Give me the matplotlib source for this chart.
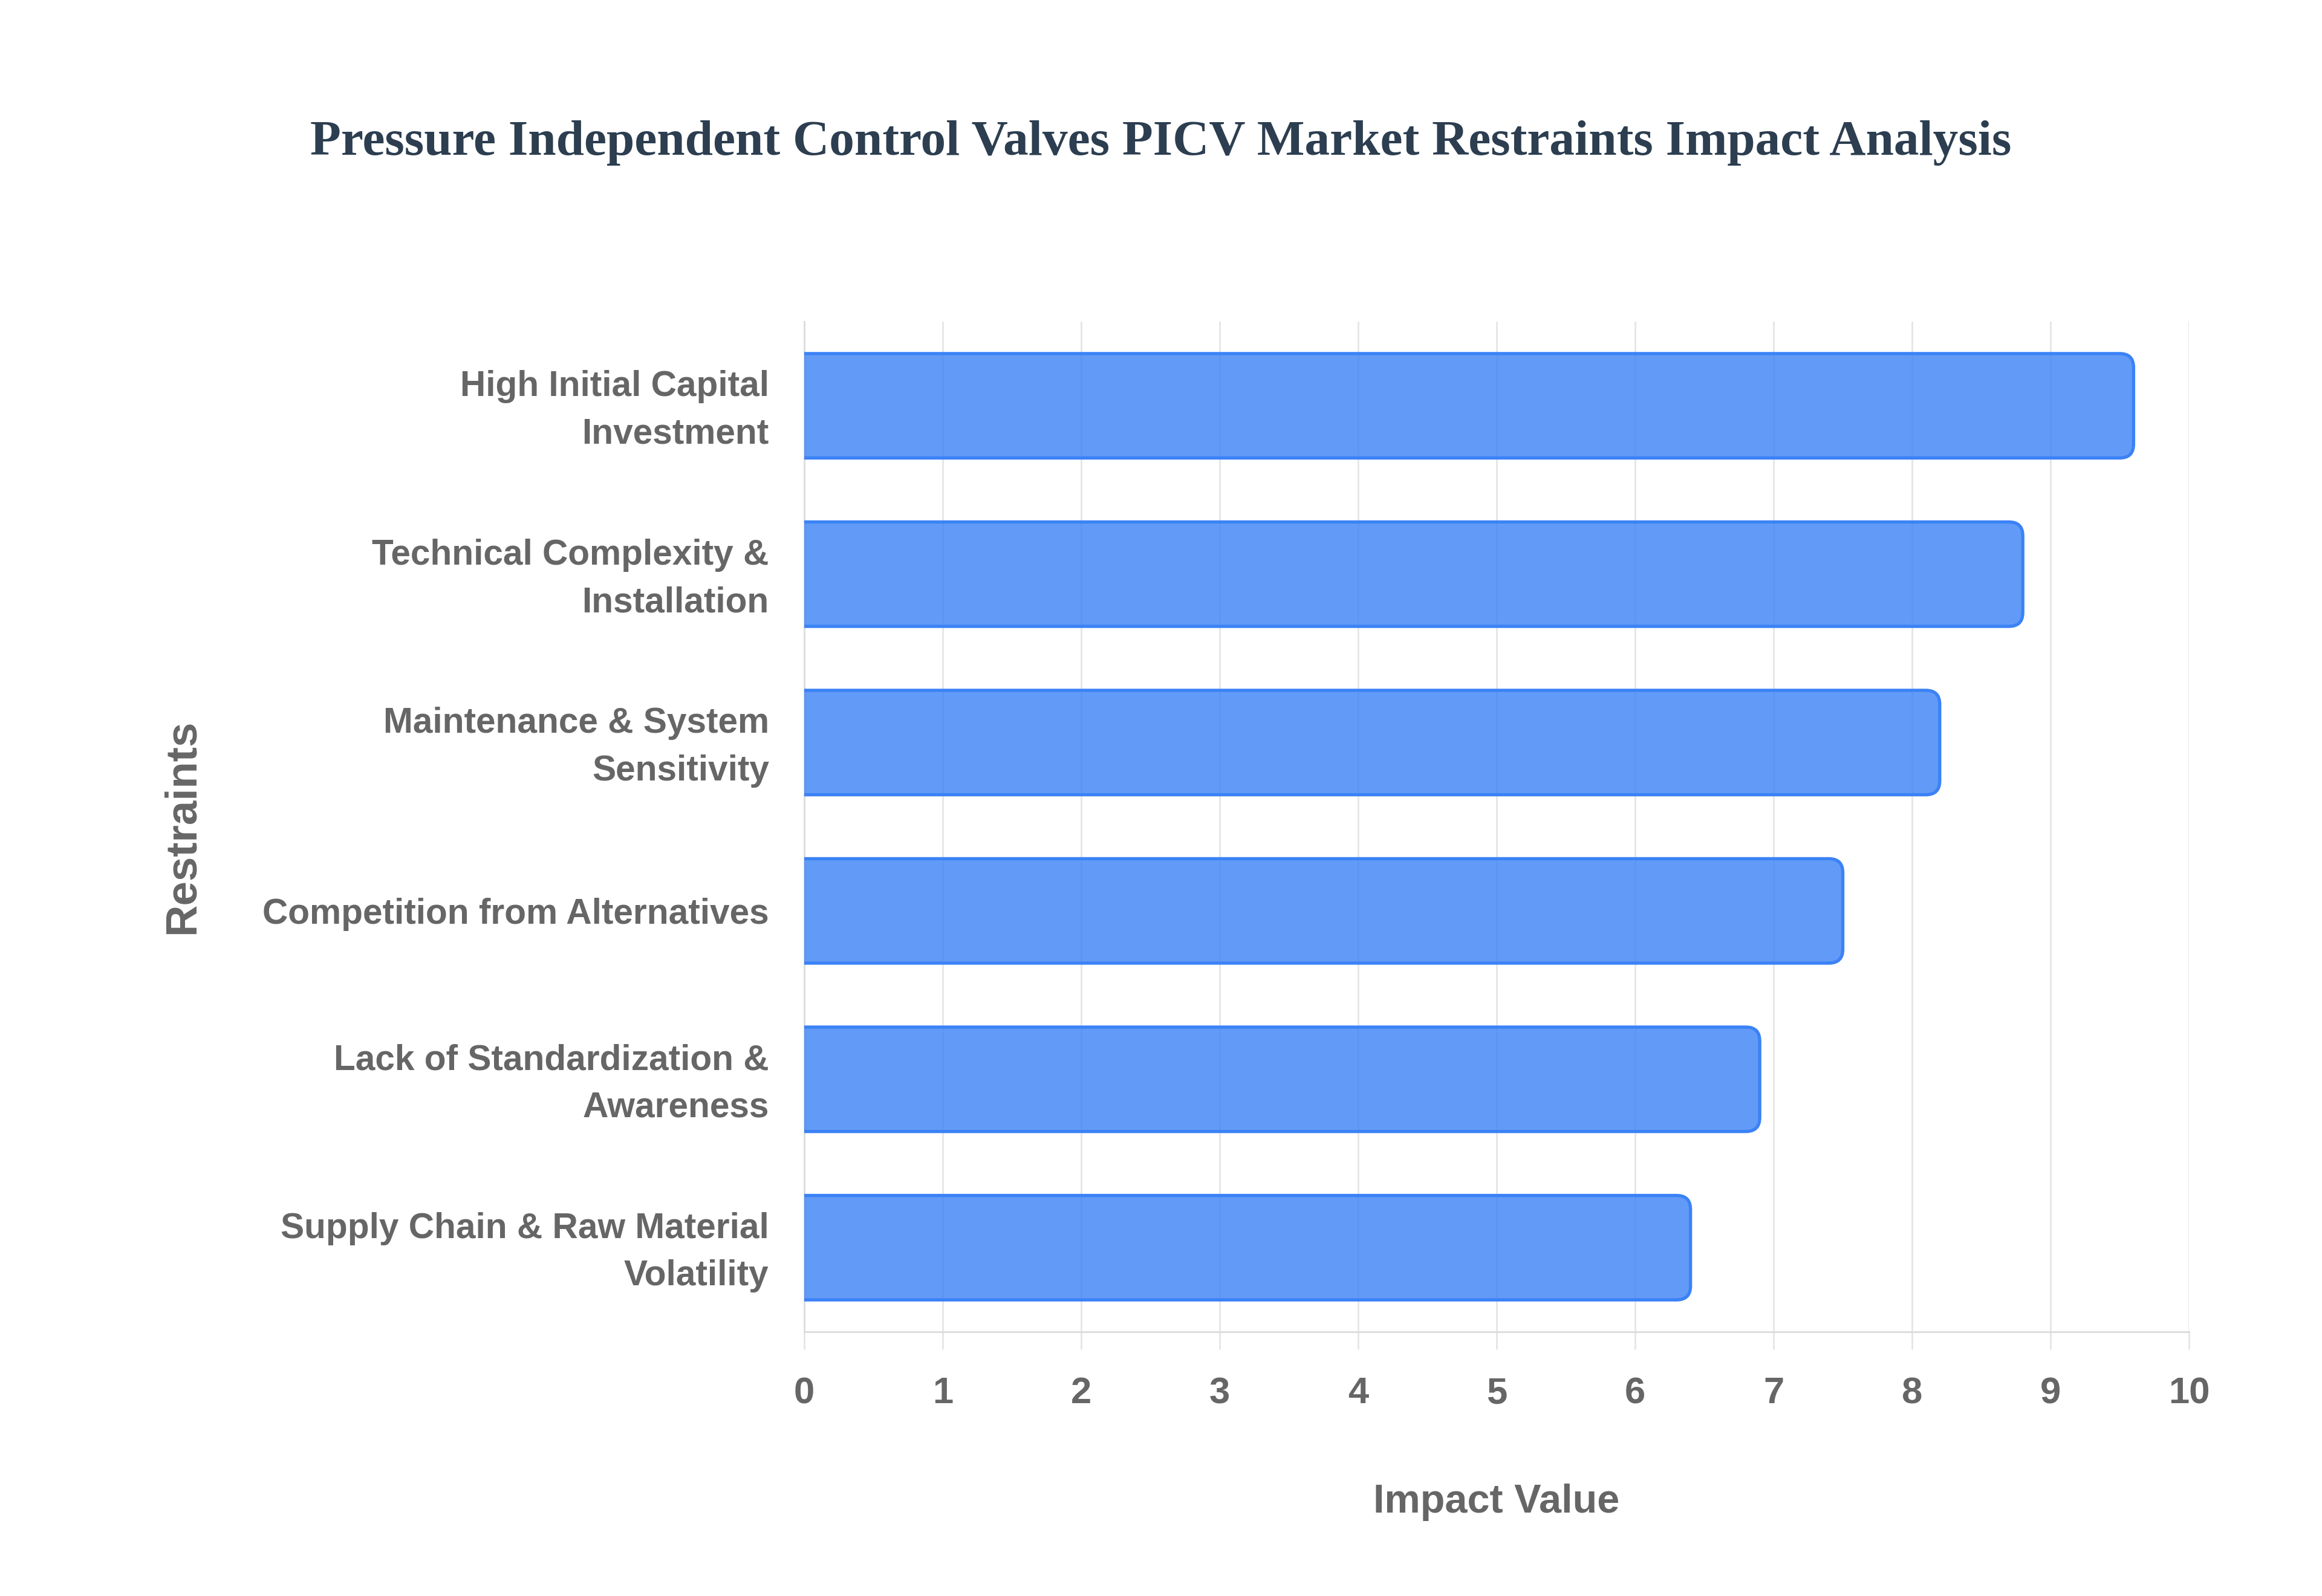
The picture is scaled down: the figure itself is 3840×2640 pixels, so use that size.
import numpy as np
import matplotlib.pyplot as plt
from matplotlib.patches import FancyBboxPatch
from matplotlib.transforms import ScaledTranslation

# data
restraints = [
    'High Initial Capital\nInvestment',
    'Technical Complexity &\nInstallation',
    'Maintenance & System\nSensitivity',
    'Competition from Alternatives',
    'Lack of Standardization &\nAwareness',
    'Supply Chain & Raw Material\nVolatility',
]
impact = [9.6, 8.8, 8.2, 7.5, 6.9, 6.4]
x_ticks = [0, 1, 2, 3, 4, 5, 6, 7, 8, 9, 10]

title = 'Pressure Independent Control Valves PICV Market Restraints Impact Analysis'
x_title = 'Impact Value'
y_title = 'Restraints'

text_grey = '#666666'
grid_grey = '#e4e4e4'
blue = '#3b82f6'

fig = plt.figure(figsize=(16, 11), dpi=240)
ax = fig.add_axes([0.3464, 0.1655, 0.5963, 0.6330])

ax.set_xlim(0, 10)
ax.set_ylim(len(restraints) - 0.5, -0.5)

# plain bars first, then swap each one for a bar with rounded right end
y_pos = np.arange(len(restraints))
bars = ax.barh(y_pos, impact, height=0.62, color=blue)

fig.canvas.draw()
p0 = ax.transData.transform((0, 0))
p1 = ax.transData.transform((1, 1))
aspect = abs(p1[0] - p0[0]) / abs(p1[1] - p0[1])
radius = 0.1

for b in bars:
    x0, y0 = b.get_x(), b.get_y()
    w, h = b.get_width(), b.get_height()
    b.remove()
    shift = 0.3  # push the left end past the axis so its corners get clipped
    patch = FancyBboxPatch((x0 - shift, y0), w + shift, h,
                           boxstyle=f'round,pad=0,rounding_size={radius}',
                           mutation_aspect=aspect,
                           facecolor=(59 / 255, 130 / 255, 246 / 255, 0.8),
                           edgecolor=blue, linewidth=1.6, zorder=3)
    patch.set_clip_path(ax.patch)
    ax.add_patch(patch)

# axes styling
for side in ['top', 'right']:
    ax.spines[side].set_visible(False)
for side in ['left', 'bottom']:
    ax.spines[side].set_color('#dddddd')
    ax.spines[side].set_linewidth(0.9)

ax.set_xticks(x_ticks)
ax.set_xticklabels([str(t) for t in x_ticks])
ax.grid(axis='x', color=grid_grey, linewidth=0.8, zorder=0)
ax.set_axisbelow(True)
ax.tick_params(axis='x', length=8.7, width=0.8, color=grid_grey, pad=13.5,
               labelsize=18.5, labelcolor=text_grey)

ax.set_yticks(y_pos)
ax.set_yticklabels(restraints)
ax.tick_params(axis='y', length=0, pad=17.5, labelsize=17.6, labelcolor=text_grey)

for lab in ax.get_xticklabels() + ax.get_yticklabels():
    lab.set_fontfamily('Liberation Sans')
    lab.set_fontweight('bold')
for lab in ax.get_yticklabels():
    lab.set_linespacing(1.55)
    if '\n' in lab.get_text():
        # two-line labels sit a little high in the reference
        lab.set_transform(lab.get_transform()
                          + ScaledTranslation(0, 3 / 72, fig.dpi_scale_trans))

ax.set_xlabel(x_title, fontsize=20, fontweight='bold', color=text_grey,
              family='Liberation Sans')
ax.xaxis.set_label_coords(0.5, -0.1789)
ax.xaxis.label.set_va('baseline')

ax.set_ylabel(y_title, fontsize=21.8, fontweight='bold', color=text_grey,
              family='Liberation Sans')
ax.yaxis.set_label_coords(-0.449, 0.5)
ax.yaxis.label.set_va('center')

fig.text(0.5, 0.9030, title, ha='center', va='baseline', fontsize=25,
         fontweight='bold', family='Liberation Serif', color='#2c3e50')

fig.savefig('out.png', dpi=240, facecolor='white')
